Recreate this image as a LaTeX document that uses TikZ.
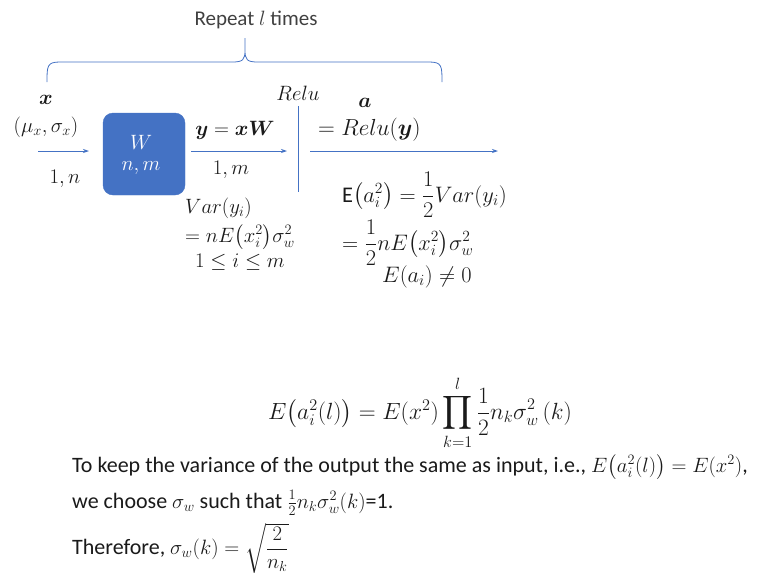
\documentclass[tikz,border=0pt]{standalone}
\usepackage{amsmath}
\usepackage{graphicx}
\usepackage{fontspec}
\setmainfont{Carlito}
\usetikzlibrary{arrows.meta}
\definecolor{boxblue}{HTML}{4472C4}
\definecolor{txt}{HTML}{1A1A1A}
\begin{document}
\begin{tikzpicture}[x=1pt,y=-1pt,
  flow/.style={draw=boxblue,line width=0.8pt,-{Stealth[length=6pt,width=4pt]}},
  lbl/.style={inner sep=0pt,text=txt,font=\fontsize{20.74}{24}\selectfont},
  elbl/.style={inner sep=0pt,text=txt,anchor=west,font=\fontsize{20.74}{24}\selectfont},
  big/.style={inner sep=0pt,text=txt,font=\fontsize{20.74}{24}\selectfont},
  body/.style={inner sep=0pt,text=txt,anchor=west,font=\fontsize{22}{25}\selectfont},
  wtext/.style={inner sep=0pt,text=white,font=\fontsize{20.74}{24}\selectfont},
  wbox/.style={draw=boxblue,fill=boxblue,rounded corners=10pt,minimum width=82pt,minimum height=82pt,inner sep=0pt}]
\useasboundingbox (0,0) rectangle (768,587);
% brace
\node[inner sep=0pt,text=black!75,font=\fontsize{21}{24}\selectfont] (rep) at (256,20) {Repeat $l$ times};
\draw[boxblue,line width=0.8pt] (47,82) .. controls (47,66) and (47,62) .. (60,62) -- (232,62)
  .. controls (243,62) and (245,60) .. (245,50) -- (245,38)
  (245,50) .. controls (245,60) and (247,62) .. (258,62) -- (429,62)
  .. controls (442,62) and (442,66) .. (442,82);
% input
\node[big] (x) at (46,100) {$\boldsymbol{x}$};
\node[lbl] (mx) at (46,127) {$(\mu_x,\sigma_x)$};
\coordinate (a1s) at (38,151);
\coordinate (a1e) at (89,151);
\draw[flow] (a1s) -- (a1e);
\node[lbl] (n1) at (65,179) {$1,n$};
% W box
\node[wbox] (W) at (144,154) {};
\node[wtext] (Wt) at (141,142) {$W$};
\node[wtext] (nm) at (141,168) {$n,m$};
% y = xW
\node[big] (y) at (235,130) {$\boldsymbol{y}=\boldsymbol{x}\boldsymbol{W}$};
\coordinate (a2s) at (191,151);
\coordinate (a2e) at (287,151);
\draw[flow] (a2s) -- (a2e);
\node[lbl] (m1) at (231,170) {$1,m$};
\node[lbl,anchor=west] (var1) at (185,208) {$Var(y_i)$};
\node[lbl,anchor=west] (var2) at (185,237) {$=nE\bigl(x_i^2\bigr)\sigma_w^2$};
\node[lbl,anchor=west] (var3) at (195,262) {$1\le i\le m$};
% relu
\coordinate (rt) at (298,106);
\coordinate (rb) at (298,192);
\draw[boxblue,line width=0.8pt] (rt) -- (rb);
\node[lbl] (relu) at (298,93) {$Relu$};
\node[big] (a) at (365,103) {$\boldsymbol{a}$};
\node[lbl,anchor=west] (ar) at (318,130) {\scalebox{1.12}{$=Relu(\boldsymbol{y})$}};
\coordinate (a3s) at (310,151);
\coordinate (a3e) at (498,151);
\node[elbl] (e1) at (342,195) {\scalebox{1.08}{$\mathrm{E}\bigl(a_i^2\bigr)=\dfrac{1}{2}Var(y_i)$}};
\node[elbl] (e2) at (342,243) {\scalebox{1.08}{$=\dfrac{1}{2}nE\bigl(x_i^2\bigr)\sigma_w^2$}};
\node[elbl] (e3) at (382,277) {\scalebox{1.08}{$E(a_i)\ne 0$}};
\draw[flow] (a3s) -- (a3e);
% bottom
\node[lbl] (prod) at (420,413) {\scalebox{1.13}{$E\bigl(a_i^2(l)\bigr)=E(x^2)\displaystyle\prod_{k=1}^{l}\frac{1}{2}n_k\sigma_w^2\,(k)$}};
\node[body] (t1) at (72,467) {To keep the variance of the output the same as input, i.e., $E\bigl(a_i^2(l)\bigr)=E(x^2)$,};
\node[body] (t2) at (72,503) {we choose $\sigma_w$ such that $\frac{1}{2}n_k\sigma_w^2(k)$=1.};
\node[body] (t3) at (72,548) {Therefore, $\sigma_w(k)=\sqrt{\dfrac{2}{n_k}}$};
\end{tikzpicture}
\end{document}
